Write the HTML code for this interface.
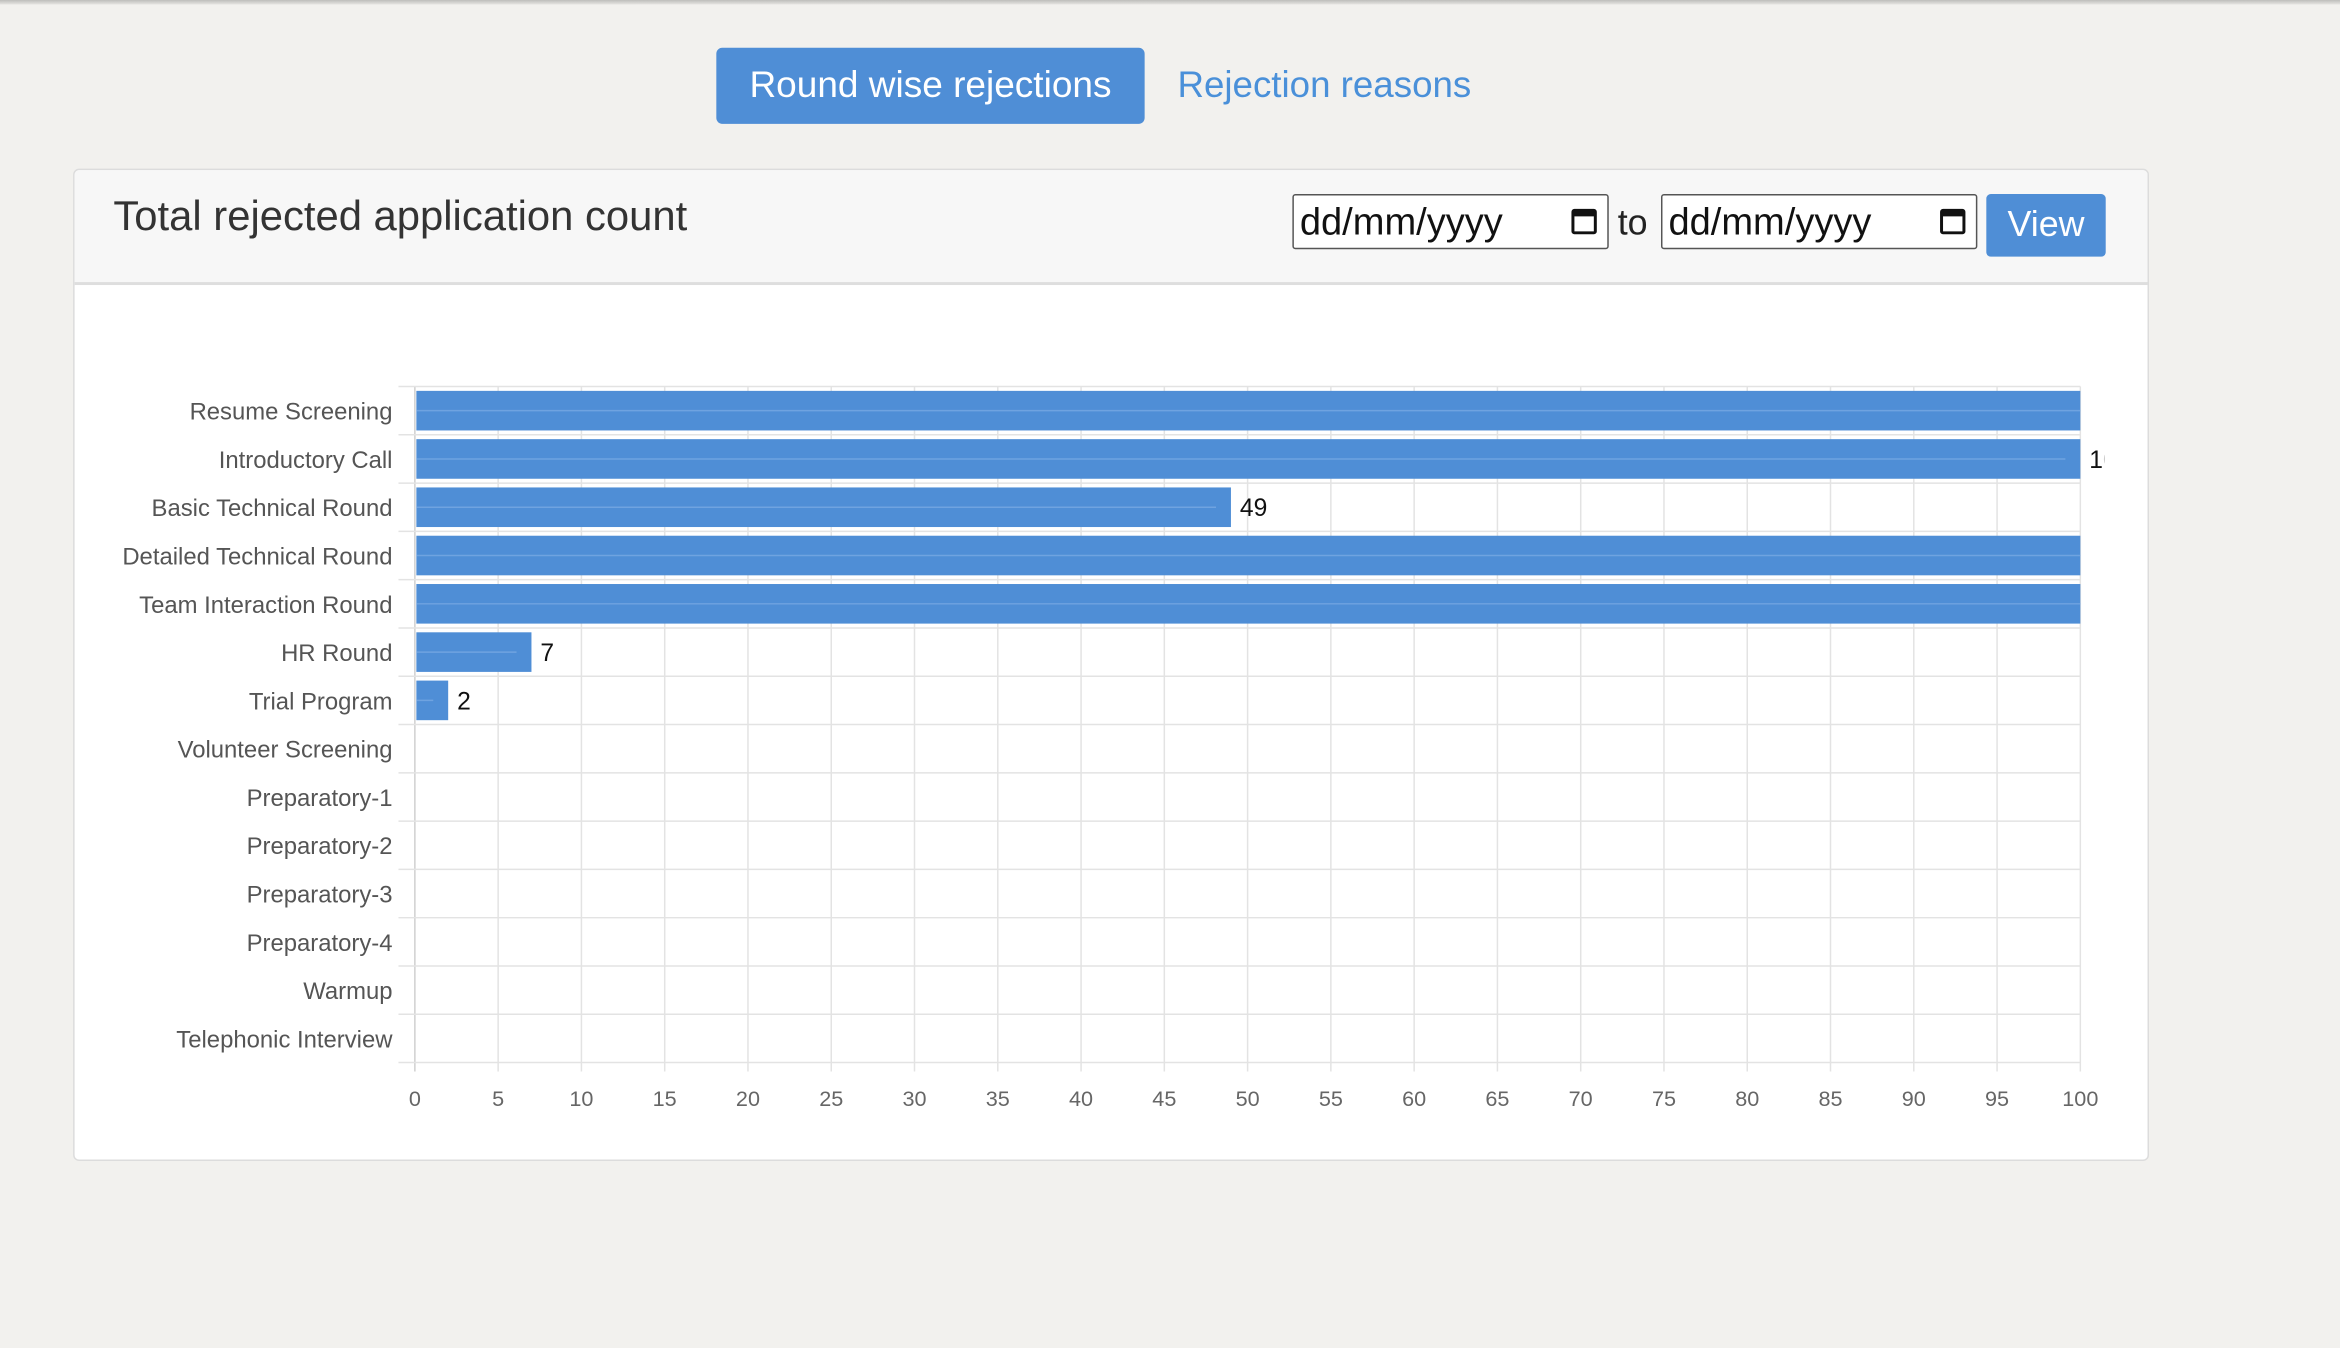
<!DOCTYPE html>
<html><head><meta charset="utf-8">
<style>
html,body{margin:0;padding:0;width:2340px;height:1348px;overflow:hidden;background:#f2f1ee;}
#wrap{position:absolute;left:0;top:0;width:1568px;height:903px;transform:scale(1.49235);transform-origin:0 0;font-family:"Liberation Sans",sans-serif;}
.topline{position:absolute;left:0;top:0;width:1568px;height:3px;background:linear-gradient(#bdbdba,#e6e5e2);}
.tab-active{position:absolute;left:480px;top:32px;width:287px;height:51px;background:#4f8ed6;border-radius:4px;color:#fff;font-size:24.8px;line-height:51px;text-align:center;}
.tab{position:absolute;left:789px;top:32px;height:51px;line-height:51px;color:#4a90d9;font-size:24.6px;}
.card{position:absolute;left:49px;top:113px;width:1389px;height:663px;border:1px solid #dcdcdc;border-radius:4px;background:#fff;overflow:hidden;}
.head{position:absolute;left:0;top:0;width:1389px;height:75px;background:#f7f7f7;border-bottom:2px solid #dedede;}
.title{position:absolute;left:26px;top:15px;font-size:28px;color:#333;}
.date{position:absolute;top:16px;width:212px;height:37px;border:1px solid #555;border-radius:2px;background:#fff;font-size:25.5px;line-height:37px;box-sizing:border-box;padding-left:4px;color:#111;}
.cal{position:absolute;right:7px;top:9px;width:17px;height:17px;border:2px solid #111;border-top-width:5px;border-radius:2px;box-sizing:border-box;}
.to{position:absolute;left:1034px;top:17px;font-size:24px;line-height:37px;color:#222;}
.view{position:absolute;left:1281px;top:16px;width:80px;height:42px;background:#4f8ed6;border-radius:3px;color:#fff;font-size:24px;line-height:42px;text-align:center;}
svg{position:absolute;left:0;top:0;}
</style></head><body>
<div id="wrap">
<div class="topline"></div>
<div class="tab-active">Round wise rejections</div>
<div class="tab">Rejection reasons</div>
<div class="card">
 <div class="head">
  <div class="title">Total rejected application count</div>
  <div class="date" style="left:816px">dd/mm/yyyy<span class="cal"></span></div>
  <div class="to">to</div>
  <div class="date" style="left:1063px">dd/mm/yyyy<span class="cal"></span></div>
  <div class="view">View</div>
 </div>
</div>
<svg id="chart" width="1568" height="903" viewBox="0 0 1568 903"></svg>
</div>
<script>
const categories=["Resume Screening","Introductory Call","Basic Technical Round","Detailed Technical Round","Team Interaction Round","HR Round","Trial Program","Volunteer Screening","Preparatory-1","Preparatory-2","Preparatory-3","Preparatory-4","Warmup","Telephonic Interview"];
const values=[250,100,49,180,150,7,2,0,0,0,0,0,0,0];
const xTicks=[0,5,10,15,20,25,30,35,40,45,50,55,60,65,70,75,80,85,90,95,100];
const xMin=0,xMax=100;
const L=278,R=1394,T=259,B=712;
const NS="http://www.w3.org/2000/svg";
const svg=document.getElementById('chart');
const band=(B-T)/categories.length;
function xs(v){return L+(Math.max(xMin,Math.min(xMax,v))-xMin)/(xMax-xMin)*(R-L);}
function ys(i){return T+i*band;}
function mk(tag,attrs,parent){const e=document.createElementNS(NS,tag);for(const k in attrs)e.setAttribute(k,attrs[k]);(parent||svg).appendChild(e);return e;}
const defs=mk('defs',{});
const cp=mk('clipPath',{id:'clip'},defs);
mk('rect',{x:0,y:0,width:1410,height:903},cp);
xTicks.forEach(t=>{
 const g=mk('line',{x1:xs(t),x2:xs(t),y1:T,y2:B+6,stroke:t===0?'#cfcfcf':'#e3e3e3','stroke-width':1});
 
 
 const tx=mk('text',{x:xs(t),y:B+29,'text-anchor':'middle','font-size':14.5,fill:'#666','font-family':'Liberation Sans, sans-serif'});
 tx.textContent=t;
 
 
});
for(let i=0;i<=categories.length;i++){
 const l=mk('line',{x1:L-11,x2:R,y1:ys(i),y2:ys(i),stroke:'#e3e3e3','stroke-width':1});
 
 
}
categories.forEach((c,i)=>{
 const cy=ys(i)+band/2;
 const lab=mk('text',{x:263,y:cy+6,'text-anchor':'end','font-size':16,fill:'#555','font-family':'Liberation Sans, sans-serif'});
 lab.textContent=c;
 
 
 const v=values[i];
 if(v>0){
  const h=band*0.82;
  const b=mk('rect',{x:L+1,y:cy-h/2,width:xs(v)-L-1,height:h,fill:'#4f8ed6'});
  
  
  mk('line',{x1:L+1,x2:xs(v)-(v<=xMax?10:0),y1:cy,y2:cy,stroke:'#6fa3e0','stroke-width':1});
  if(v<=xMax){
   const vl=mk('text',{x:xs(v)+6,y:cy+6,'font-size':16.5,fill:'#111','font-family':'Liberation Sans, sans-serif','clip-path':'url(#clip)'});
   vl.textContent=v;
   
   
  }
 }
});
</script>
</body></html>
